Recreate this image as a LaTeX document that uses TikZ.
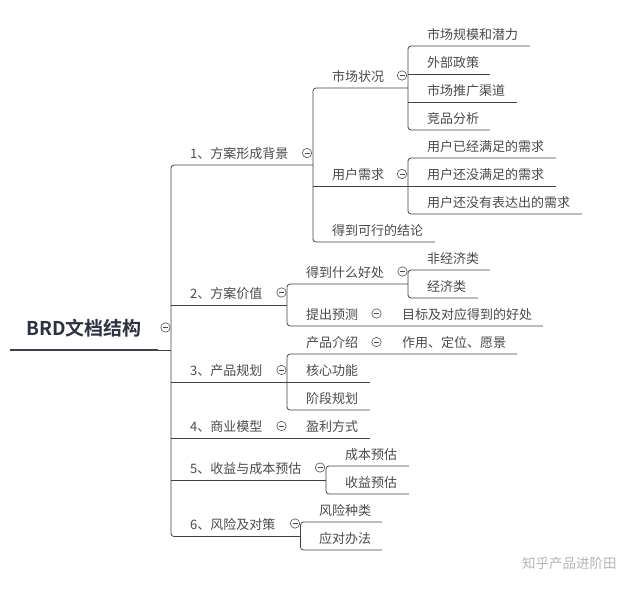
\documentclass[tikz,border=0pt]{standalone}
\usepackage{fontspec}
\setmainfont{Noto Sans CJK SC}[BoldFont={Noto Sans CJK SC Bold}]
\definecolor{linec}{HTML}{3E4248}
\definecolor{textc}{HTML}{4A4A4A}
\definecolor{rootc}{HTML}{2E3240}
\definecolor{wmc}{HTML}{B4B4B4}
\tikzset{
  lab/.style={anchor=west,inner sep=0pt,yshift=-0.8pt,text=textc,font=\fontsize{13}{13}\selectfont},
  rootlab/.style={anchor=west,inner sep=0pt,yshift=-0.8pt,text=rootc,font=\fontsize{19}{19}\selectfont\bfseries},
  wmlab/.style={anchor=west,inner sep=0pt,text=wmc,font=\fontsize{13.5}{14}\selectfont},
  conn/.style={draw=linec,line width=0.75pt},
  trunk/.style={conn,rounded corners=3pt},
  collapser/.style={circle,draw=textc!85,line width=0.7pt,minimum size=9.4pt,inner sep=0pt,
    path picture={\draw[textc,line width=0.7pt]
      ([xshift=2.2pt]path picture bounding box.west) -- ([xshift=-2.2pt]path picture bounding box.east);}}
}
% #1 name, #2 start x, #3 end x, #4 y : the two ends of an underline
\newcommand{\ulends}[4]{\coordinate (#1s) at (#2,#4); \coordinate (#1e) at (#3,#4);}
\newcommand{\mlab}[4]{\node[lab] (#1) at (#2,#3) {#4};}
\newcommand{\mcol}[3]{\node[collapser] (#1) at (#2,#3) {};}
\begin{document}
\begin{tikzpicture}[x=1pt,y=-1pt]
\useasboundingbox (0,0) rectangle (639,590);
\fill[white] (0,0) rectangle (639,590);

% root
\node[rootlab] (root) at (26,327) {BRD文档结构};
\mcol{rootcol}{165.5}{327.5}
\coordinate (rs) at (10,350); \coordinate (rm) at (158,350); \coordinate (re) at (171,350);
\draw[conn,line width=1.7pt] (rs) -- (rm);
\draw[conn] (rm) -- (re);

% level 1
\ulends{a}{171}{313}{165}
\ulends{b}{171}{287}{305}
\ulends{c}{171}{287}{382}
\ulends{d}{171}{370}{438}
\ulends{e}{171}{326}{480}
\ulends{f}{171}{300.5}{536.5}
\draw[trunk] (ae) -- (as) -- (fs) -- (fe);
\draw[conn] (bs) -- (be);
\draw[conn] (cs) -- (ce);
\draw[conn] (ds) -- (de);
\draw[conn] (es) -- (ee);
\mlab{at}{190}{153}{1、方案形成背景} \mcol{acol}{307}{153}
\mlab{bt}{190}{293}{2、方案价值} \mcol{bcol}{281.5}{292.5}
\mlab{ct}{190}{370}{3、产品规划} \mcol{ccol}{281.5}{370}
\mlab{dt}{190}{426}{4、商业模型} \mcol{dcol}{281.5}{426}
\mlab{et}{190}{468}{5、收益与成本预估} \mcol{ecol}{320}{467.5}
\mlab{ft}{190}{524}{6、风险及对策} \mcol{fcol}{295}{523.5}

% group a
\ulends{aa}{313}{408}{88}
\ulends{ab}{313}{408}{186}
\ulends{ac}{313}{435}{242}
\draw[trunk] (aae) -- (aas) -- (acs) -- (ace);
\draw[conn] (abs) -- (abe);
\mlab{aat}{332}{76}{市场状况} \mcol{aacol}{402}{75.5}
\mlab{abt}{332}{174}{用户需求} \mcol{abcol}{402}{174}
\mlab{act}{332}{230}{得到可行的结论}

% group a-a
\ulends{aaa}{408}{530}{46}
\ulends{aab}{408}{490}{74}
\ulends{aac}{408}{517}{102}
\ulends{aad}{408}{490}{130}
\draw[trunk] (aaae) -- (aaas) -- (aads) -- (aade);
\draw[conn] (aabs) -- (aabe);
\draw[conn] (aacs) -- (aace);
\mlab{aaat}{427}{34}{市场规模和潜力}
\mlab{aabt}{427}{62}{外部政策}
\mlab{aact}{427}{90}{市场推广渠道}
\mlab{aadt}{427}{118}{竞品分析}

% group a-b
\ulends{aba}{408}{556}{158}
\ulends{abb}{408}{556}{186}
\ulends{abd}{408}{582}{214}
\draw[trunk] (abae) -- (abas) -- (abds) -- (abde);
\draw[conn] (abbs) -- (abbe);
\mlab{abat}{427}{146}{用户已经满足的需求}
\mlab{abbt}{427}{174}{用户还没满足的需求}
\mlab{abdt}{427}{202}{用户还没有表达出的需求}

% group b
\ulends{ba}{287}{408}{284}
\ulends{bb}{287}{543}{326}
\draw[trunk] (bae) -- (bas) -- (bbs) -- (bbe);
\mlab{bat}{306}{272}{得到什么好处} \mcol{bacol}{402.5}{271.5}
\mlab{bbt}{306}{314}{提出预测} \mcol{bbcol}{376.5}{313.5}
\mlab{bbbt}{402}{314}{目标及对应得到的好处}

% group b-a
\ulends{baa}{408}{490}{270}
\ulends{bab}{408}{478}{298}
\draw[trunk] (baae) -- (baas) -- (babs) -- (babe);
\mlab{baat}{427}{258}{非经济类}
\mlab{babt}{427}{286}{经济类}

% group c
\ulends{ca}{287}{517}{354}
\ulends{cb}{287}{370}{382}
\ulends{cd}{287}{370}{410}
\draw[trunk] (cae) -- (cas) -- (cds) -- (cde);
\draw[conn] (cbs) -- (cbe);
\mlab{cat}{306}{342}{产品介绍} \mcol{cacol}{376.5}{342}
\mlab{caat}{402}{342}{作用、定位、愿景}
\mlab{cbt}{306}{370}{核心功能}
\mlab{cdt}{306}{398}{阶段规划}

% group d
\mlab{dat}{306}{426}{盈利方式}

% group e
\ulends{ea}{326}{409}{466}
\ulends{eb}{326}{409}{494}
\draw[trunk] (eae) -- (eas) -- (ebs) -- (ebe);
\mlab{eat}{345}{454}{成本预估}
\mlab{ebt}{345}{482}{收益预估}

% group f
\ulends{fa}{300.5}{382}{522}
\ulends{fb}{300.5}{382}{550}
\draw[trunk] (fae) -- (fas) -- (fbs) -- (fbe);
\mlab{fat}{319}{510}{风险种类}
\mlab{fbt}{319}{538}{应对办法}

% watermark
\node[wmlab] (wm) at (522,563.5) {知乎产品进阶田};
\end{tikzpicture}
\end{document}
